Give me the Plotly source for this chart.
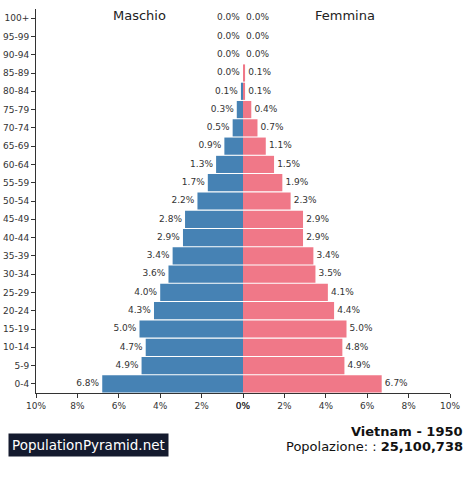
import plotly.graph_objects as go

ages = ["0-4", "5-9", "10-14", "15-19", "20-24", "25-29", "30-34", "35-39", "40-44",
        "45-49", "50-54", "55-59", "60-64", "65-69", "70-74", "75-79", "80-84",
        "85-89", "90-94", "95-99", "100+"]
male = [6.8, 4.9, 4.7, 5.0, 4.3, 4.0, 3.6, 3.4, 2.9, 2.8, 2.2, 1.7, 1.3, 0.9, 0.5, 0.3, 0.1,
        0.0, 0.0, 0.0, 0.0]
female = [6.7, 4.9, 4.8, 5.0, 4.4, 4.1, 3.5, 3.4, 2.9, 2.9, 2.3, 1.9, 1.5, 1.1, 0.7, 0.4, 0.1,
          0.1, 0.0, 0.0, 0.0]
left_ticks = [10, 8, 6, 4, 2, 0]
right_ticks = [0, 2, 4, 6, 8, 10]

FONT = "DejaVu Sans"
TXT = "#333333"
MCOL = "#4682B4"
FCOL = "#F07888"

fig = go.Figure()
fig.add_trace(go.Bar(y=ages, x=male, orientation="h", marker=dict(color=MCOL, line=dict(width=0)),
                     xaxis="x", yaxis="y", hoverinfo="skip", showlegend=False))
fig.add_trace(go.Bar(y=ages, x=female, orientation="h", marker=dict(color=FCOL, line=dict(width=0)),
                     xaxis="x2", yaxis="y", hoverinfo="skip", showlegend=False))
fig.add_trace(go.Scatter(y=ages, x=[v + 0.15 for v in male], mode="text",
                         text=[f"{v:.1f}%" for v in male], textposition="middle left",
                         textfont=dict(family=FONT, size=9, color=TXT),
                         xaxis="x", yaxis="y", hoverinfo="skip", showlegend=False))
fig.add_trace(go.Scatter(y=ages, x=[v + 0.15 for v in female], mode="text",
                         text=[f"{v:.1f}%" for v in female], textposition="middle right",
                         textfont=dict(family=FONT, size=9, color=TXT),
                         xaxis="x2", yaxis="y", hoverinfo="skip", showlegend=False))

axis_common = dict(showline=True, linecolor="#333333", linewidth=1, ticks="outside",
                   ticklen=4, tickcolor="#333333", showgrid=False, zeroline=False,
                   automargin=False, tickfont=dict(family=FONT, size=9, color=TXT))

W, H = 474, 478
l, r, t, b = 36, 24, 9, 85
pw, ph = W - l - r, H - t - b


def px(x):
    return (x - l) / pw


def py(y):
    return 1 - (y - t) / ph


fig.update_layout(
    width=W, height=H,
    margin=dict(l=l, r=r, t=t, b=b),
    paper_bgcolor="white", plot_bgcolor="white",
    bargap=0.06,
    font=dict(family=FONT, color=TXT),
    xaxis=dict(domain=[0, 0.5], range=[10, 0], tickvals=left_ticks,
               ticktext=[f"{v}%" for v in left_ticks], anchor="y", **axis_common),
    xaxis2=dict(domain=[0.5, 1], range=[0, 10], tickvals=right_ticks,
                ticktext=[f"{v}%" for v in right_ticks], anchor="y", **axis_common),
    yaxis=dict(range=[-0.5, 20.5], **axis_common),
    annotations=[
        dict(text="Maschio", x=px(139), y=py(15), xanchor="center", yanchor="middle",
             xref="paper", yref="paper", showarrow=False,
             font=dict(family=FONT, size=13, color="#222222")),
        dict(text="Femmina", x=px(345), y=py(15), xanchor="center", yanchor="middle",
             xref="paper", yref="paper", showarrow=False,
             font=dict(family=FONT, size=13, color="#222222")),
        dict(text="PopulationPyramid.net", x=px(8), y=py(445), xanchor="left", yanchor="middle",
             xref="paper", yref="paper", showarrow=False, bgcolor="#141a2e",
             borderpad=3, font=dict(family=FONT, size=13.5, color="white")),
        dict(text="<b>Vietnam - 1950</b>", x=px(465), y=py(431), xanchor="right", yanchor="middle",
             xref="paper", yref="paper", showarrow=False,
             font=dict(family=FONT, size=13, color="#111111")),
        dict(text="Popolazione: : <b>25,100,738</b>", x=px(465), y=py(446), xanchor="right",
             yanchor="middle", xref="paper", yref="paper", showarrow=False,
             font=dict(family=FONT, size=13, color="#111111")),
    ],
)

fig.write_html("out.html")
